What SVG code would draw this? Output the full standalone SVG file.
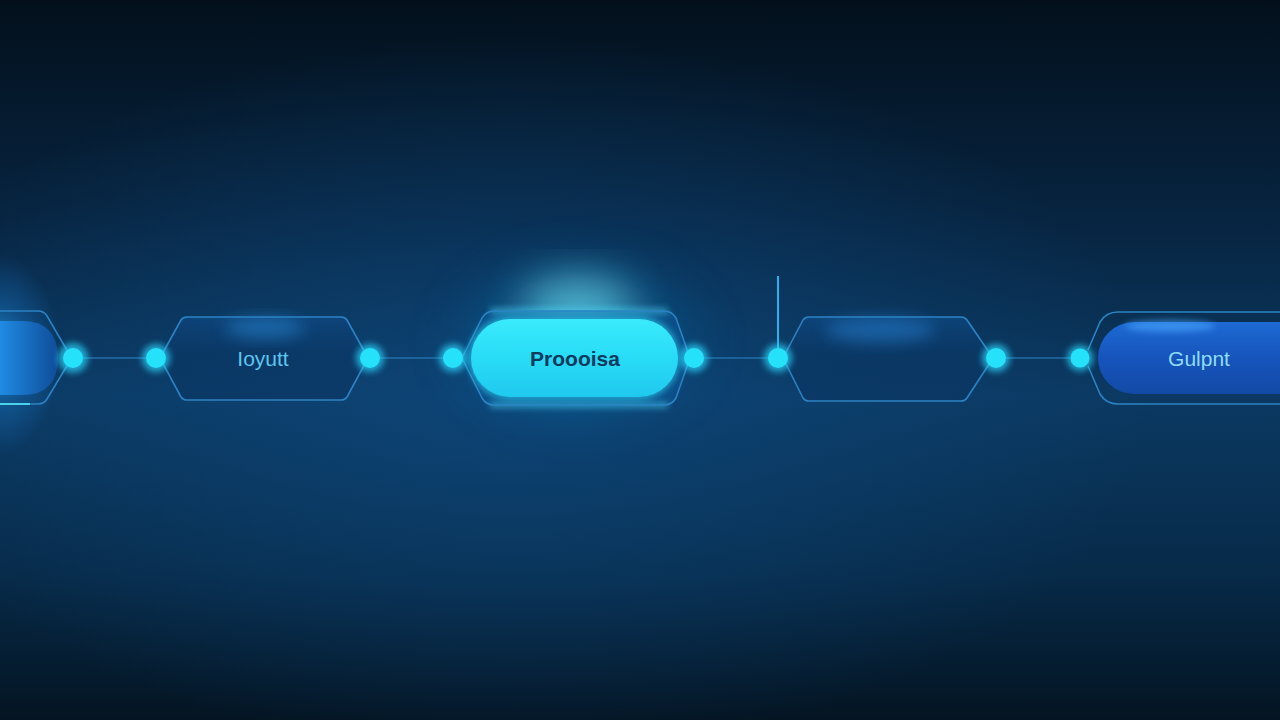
<svg xmlns="http://www.w3.org/2000/svg" width="1280" height="720" viewBox="0 0 1280 720">
<defs>
<linearGradient id="bg" x1="0" y1="0" x2="0" y2="1">
<stop offset="0" stop-color="#03101c"/>
<stop offset="0.3" stop-color="#072440"/>
<stop offset="0.55" stop-color="#0b3962"/>
<stop offset="0.8" stop-color="#072a48"/>
<stop offset="1" stop-color="#041422"/>
</linearGradient>
<radialGradient id="bgGlow" cx="0.4" cy="0.55" r="0.5">
<stop offset="0" stop-color="#0f4d85" stop-opacity="0.6"/>
<stop offset="1" stop-color="#0f4d85" stop-opacity="0"/>
</radialGradient>
<radialGradient id="glowC" cx="0.5" cy="0.5" r="0.5">
<stop offset="0" stop-color="#3fe4ff" stop-opacity="0.9"/>
<stop offset="0.4" stop-color="#1aa8e8" stop-opacity="0.45"/>
<stop offset="1" stop-color="#0a5aa0" stop-opacity="0"/>
</radialGradient>
<radialGradient id="glowSoft" cx="0.5" cy="0.5" r="0.5">
<stop offset="0" stop-color="#2ab8f8" stop-opacity="0.8"/>
<stop offset="0.5" stop-color="#1a80d8" stop-opacity="0.35"/>
<stop offset="1" stop-color="#1a80d8" stop-opacity="0"/>
</radialGradient>
<linearGradient id="pillC" x1="0" y1="0" x2="0" y2="1">
<stop offset="0" stop-color="#3aeafc"/>
<stop offset="0.5" stop-color="#28dcf6"/>
<stop offset="1" stop-color="#20c8ee"/>
</linearGradient>
<linearGradient id="pillB" x1="0" y1="0" x2="0" y2="1">
<stop offset="0" stop-color="#1e6ad4"/>
<stop offset="0.5" stop-color="#1654bc"/>
<stop offset="1" stop-color="#134aa6"/>
</linearGradient>
<linearGradient id="leftFill" x1="0" y1="0" x2="1" y2="0">
<stop offset="0" stop-color="#2296f0"/>
<stop offset="1" stop-color="#0f4c98"/>
</linearGradient>
<linearGradient id="hexFill" x1="0" y1="0" x2="0" y2="1">
<stop offset="0" stop-color="#0e4780" stop-opacity="0.8"/>
<stop offset="0.45" stop-color="#0a3664" stop-opacity="0.6"/>
<stop offset="1" stop-color="#0a3360" stop-opacity="0.5"/>
</linearGradient>
<filter id="blur8" x="-50%" y="-50%" width="200%" height="200%"><feGaussianBlur stdDeviation="8"/></filter>
<filter id="blur3" x="-50%" y="-50%" width="200%" height="200%"><feGaussianBlur stdDeviation="3"/></filter>
<filter id="blur20" x="-50%" y="-50%" width="200%" height="200%"><feGaussianBlur stdDeviation="20"/></filter>
</defs>
<style>
.hex{fill:none;stroke:#2c82c4;stroke-width:1.6;stroke-linejoin:round}
.dot{fill:#25e2fa}
.dotglow{fill:#2ad8ff;opacity:0.7}
.conn{stroke:#2a78b8;stroke-width:1.4;opacity:0.8}
.lbl{font-family:"Liberation Sans",Arial,sans-serif;font-size:21px;text-anchor:middle;dominant-baseline:central}
</style>
<rect width="1280" height="720" fill="url(#bg)"/>
<rect width="1280" height="720" fill="url(#bgGlow)"/>

<g id="connectors">
<line class="conn" x1="83" y1="358" x2="146" y2="358"/>
<line class="conn" x1="380" y1="358" x2="443" y2="358"/>
<line class="conn" x1="704" y1="358" x2="768" y2="358"/>
<line class="conn" x1="1006" y1="358" x2="1070" y2="358"/>
<line x1="778" y1="276" x2="778" y2="350" stroke="#2ab0ea" stroke-width="2"/>
<line x1="778" y1="276" x2="778" y2="350" stroke="#2ab0ea" stroke-width="6" opacity="0.3" filter="url(#blur3)"/>
</g>

<g id="node-left">
<ellipse cx="0" cy="355" rx="60" ry="100" fill="url(#glowSoft)"/>
<path d="M-10,321 L22,321 Q58,321 58,358 Q58,395 22,395 L-10,395 Z" fill="url(#leftFill)"/>
<path class="hex" d="M-5,311 L38,311 Q44,311 47,316 L68,352 Q70,358 68,364 L47,399 Q44,404 38,404 L-5,404" stroke="#2a9ad8"/>
<path d="M0,404 L34,404" stroke="#3ae0ff" stroke-width="3" filter="url(#blur3)"/>
<path d="M0,404 L30,404" stroke="#5af0ff" stroke-width="1.5"/>
<circle class="dotglow" cx="73" cy="358" r="15" filter="url(#blur3)"/>
<circle class="dot" cx="73" cy="358" r="10"/>
</g>

<g id="node-input">
<path d="M160,358 L181,320 Q183,317 187,317 L341,317 Q345,317 347,320 L368,358 L347,397 Q345,400 341,400 L187,400 Q183,400 181,397 Z" fill="url(#hexFill)"/>
<ellipse cx="265" cy="328" rx="40" ry="10" fill="#2a90e0" opacity="0.5" filter="url(#blur8)"/>
<path class="hex" d="M160,358 L181,320 Q183,317 187,317 L341,317 Q345,317 347,320 L368,358 L347,397 Q345,400 341,400 L187,400 Q183,400 181,397 Z"/>
<circle class="dotglow" cx="156" cy="358" r="14" filter="url(#blur3)"/>
<circle class="dot" cx="156" cy="358" r="10"/>
<circle class="dotglow" cx="370" cy="358" r="14" filter="url(#blur3)"/>
<circle class="dot" cx="370" cy="358" r="10"/>
<text class="lbl" x="263" y="358" fill="#5ec6ee" font-size="22">Ioyutt</text>
</g>

<g id="node-process">
<ellipse cx="578" cy="340" rx="150" ry="100" fill="url(#glowC)" opacity="0.6" filter="url(#blur20)"/>
<ellipse cx="578" cy="305" rx="55" ry="28" fill="#7ff4ff" opacity="0.55" filter="url(#blur20)"/>
<path d="M462,358 L482,318 Q486,311 494,311 L664,311 Q672,311 676,318 L690,358 L676,398 Q672,405 664,405 L494,405 Q486,405 482,398 Z" fill="#0d5290" opacity="0.7"/>
<path d="M490,311 L668,311 M490,405 L668,405" stroke="#4ae0ff" stroke-width="5" opacity="0.6" filter="url(#blur3)"/>
<path class="hex" d="M462,358 L482,318 Q486,311 494,311 L664,311 Q672,311 676,318 L690,358 L676,398 Q672,405 664,405 L494,405 Q486,405 482,398 Z" stroke="#3ab4ee" stroke-width="2"/>
<rect x="468" y="316" width="212" height="84" rx="42" fill="#2ad8f8" opacity="0.6" filter="url(#blur3)"/>
<rect x="471" y="319" width="207" height="78" rx="39" fill="url(#pillC)"/>
<circle class="dotglow" cx="453" cy="358" r="14" filter="url(#blur3)"/>
<circle class="dot" cx="453" cy="358" r="10"/>
<circle class="dotglow" cx="694" cy="358" r="14" filter="url(#blur3)"/>
<circle class="dot" cx="694" cy="358" r="10"/>
<text class="lbl" x="575" y="358" fill="#0d3a5e" font-weight="bold" font-size="22">Proooisa</text>
</g>

<g id="node-empty">
<path d="M783,358 L803,320 Q805,317 809,317 L961,317 Q965,317 967,320 L993,358 L967,398 Q965,401 961,401 L809,401 Q805,401 803,398 Z" fill="url(#hexFill)"/>
<ellipse cx="880" cy="330" rx="55" ry="12" fill="#2a8ae0" opacity="0.45" filter="url(#blur8)"/>
<path class="hex" d="M783,358 L803,320 Q805,317 809,317 L961,317 Q965,317 967,320 L993,358 L967,398 Q965,401 961,401 L809,401 Q805,401 803,398 Z"/>
<circle class="dotglow" cx="778" cy="358" r="14" filter="url(#blur3)"/>
<circle class="dot" cx="778" cy="358" r="10"/>
<circle class="dotglow" cx="996" cy="358" r="14" filter="url(#blur3)"/>
<circle class="dot" cx="996" cy="358" r="10"/>
</g>

<g id="node-output">
<path class="hex" d="M1290,312 L1118,312 Q1106,312 1100,322 L1088,350 M1088,366 L1100,394 Q1106,404 1118,404 L1290,404" stroke="#1e6aac"/>
<rect x="1098" y="322" width="220" height="72" rx="36" fill="url(#pillB)"/>
<ellipse cx="1170" cy="326" rx="45" ry="6" fill="#4aa8ff" opacity="0.6" filter="url(#blur3)"/>
<circle class="dotglow" cx="1080" cy="358" r="13" filter="url(#blur3)"/>
<circle class="dot" cx="1080" cy="358" r="9.5"/>
<text class="lbl" x="1199" y="358" fill="#8edcfa" font-size="22">Gulpnt</text>
</g>
</svg>
